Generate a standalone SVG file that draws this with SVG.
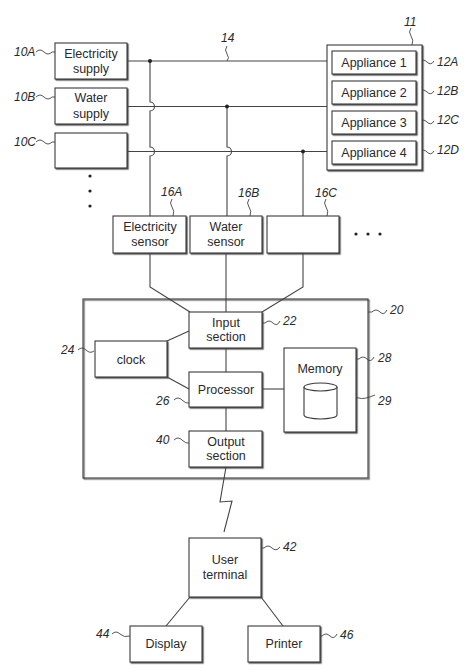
<svg xmlns="http://www.w3.org/2000/svg" width="474" height="672" viewBox="0 0 474 672">
<style>
.box{fill:#fff;stroke:#3a3a3a;stroke-width:1.1;filter:url(#sh)}
.ln{fill:none;stroke:#444;stroke-width:1.1}
.tl{fill:none;stroke:#444;stroke-width:0.9}
.t{font-family:"Liberation Sans",Arial,sans-serif;font-size:12.5px;fill:#2a2a2a;text-anchor:middle}
.lb{font-family:"Liberation Sans",Arial,sans-serif;font-size:12px;font-style:italic;fill:#2a2a2a}
.dot{fill:#222}
</style>
<defs>
<filter id="sh" x="-5%" y="-5%" width="115%" height="115%">
<feDropShadow dx="1.2" dy="1.2" stdDeviation="0.3" flood-color="#444" flood-opacity="0.9"/>
</filter>
</defs>
<rect width="474" height="672" fill="#fff"/>

<g id="connectors">
<!-- bus lines -->
<path class="ln" d="M127 61 H327"/>
<path class="ln" d="M127 106.5 H327"/>
<path class="ln" d="M127 151.5 H327"/>
<!-- vertical taps with hops -->
<path class="ln" d="M150 61 V102 A4.5 4.5 0 0 1 150 111 V147 A4.5 4.5 0 0 1 150 156 V216"/>
<path class="ln" d="M227 106.5 V147 A4.5 4.5 0 0 1 227 156 V216"/>
<path class="ln" d="M303 151.5 V216"/>
<circle class="dot" cx="150" cy="61" r="2"/>
<circle class="dot" cx="227" cy="106.5" r="2"/>
<circle class="dot" cx="303" cy="151.5" r="2"/>
<!-- sensors to input -->
<path class="ln" d="M150 253 V287 L190 312"/>
<path class="ln" d="M226 253 V312"/>
<path class="ln" d="M303 253 V287 L262 312"/>
<!-- internal -->
<path class="ln" d="M167 341 L189 331"/>
<path class="ln" d="M167 377 L189 389"/>
<path class="ln" d="M226 348 V372"/>
<path class="ln" d="M226 407 V431"/>
<path class="ln" d="M262 389 H284"/>
<!-- wireless link -->
<path class="ln" d="M226 467 L220 502 L232 501 L224 532"/>
<!-- terminal to peripherals -->
<path class="ln" d="M190 597 L166 626"/>
<path class="ln" d="M261 597 L283 626"/>
<!-- ellipsis dots -->
<circle class="dot" cx="90" cy="176" r="1.6"/>
<circle class="dot" cx="90" cy="191" r="1.6"/>
<circle class="dot" cx="90" cy="206" r="1.6"/>
<circle class="dot" cx="356" cy="234" r="1.6"/>
<circle class="dot" cx="368" cy="234" r="1.6"/>
<circle class="dot" cx="380" cy="234" r="1.6"/>
</g>

<g id="leaders">
<path class="tl" d="M36 52 q4 -4 8 0 t8 0 h3"/>
<path class="tl" d="M36 97 q4 -4 8 0 t8 0 h3"/>
<path class="tl" d="M36 142 q4 -4 8 0 t8 0 h3"/>
<path class="tl" d="M227 46 q-3 4 0 8 t0 7"/>
<path class="tl" d="M411 28 q-3 4 0 8 t1 9"/>
<path class="tl" d="M416 62 h3 q4 -4 8 0 t7 -1"/>
<path class="tl" d="M416 92 h3 q4 -4 8 0 t7 -1"/>
<path class="tl" d="M416 122 h3 q4 -4 8 0 t7 -1"/>
<path class="tl" d="M416 152 h3 q4 -4 8 0 t7 -1"/>
<path class="tl" d="M172 199 q-3 4 0 8 t1 9"/>
<path class="tl" d="M249 199 q-3 4 0 8 t1 9"/>
<path class="tl" d="M326 199 q-3 4 0 8 t1 9"/>
<path class="tl" d="M368 312 h4 q4 -4 8 0 t7 -2"/>
<path class="tl" d="M262 323 h3 q4 -4 8 0 t7 -2"/>
<path class="tl" d="M78 350 q4 -4 8 0 t8 1"/>
<path class="tl" d="M356 359 h3 q4 -4 8 0 t7 -2"/>
<path class="tl" d="M337 402 h8 q4 0 6 -2 q4 -4 8 -2 t16 -3"/>
<path class="tl" d="M174 400 q4 -4 8 0 t7 3"/>
<path class="tl" d="M174 440 q4 -4 8 0 t7 3"/>
<path class="tl" d="M261 548 h3 q4 -4 8 0 t8 -1"/>
<path class="tl" d="M112 634 q4 -4 8 0 t10 2"/>
<path class="tl" d="M320 636 h2 q4 -4 8 0 t7 -2"/>
</g>

<g class="lb">
<text x="14" y="56">10A</text>
<text x="14" y="101">10B</text>
<text x="14" y="146">10C</text>
<text x="221" y="42">14</text>
<text x="404" y="26">11</text>
<text x="437" y="66">12A</text>
<text x="437" y="95">12B</text>
<text x="437" y="124">12C</text>
<text x="437" y="154">12D</text>
<text x="161" y="196">16A</text>
<text x="238" y="197">16B</text>
<text x="315" y="197">16C</text>
<text x="390" y="314">20</text>
<text x="283" y="325">22</text>
<text x="61" y="354">24</text>
<text x="378" y="362">28</text>
<text x="378" y="405">29</text>
<text x="156" y="405">26</text>
<text x="156" y="444">40</text>
<text x="283" y="551">42</text>
<text x="96" y="638">44</text>
<text x="340" y="639">46</text>
</g>

<g id="n10A"><rect class="box" x="55" y="43" width="72" height="36"/>
<text class="t" x="91" y="57.5">Electricity</text><text class="t" x="91" y="73">supply</text></g>
<g id="n10B"><rect class="box" x="55" y="88" width="72" height="36"/>
<text class="t" x="91" y="102">Water</text><text class="t" x="91" y="117.5">supply</text></g>
<g id="n10C"><rect class="box" x="55" y="133" width="72" height="35"/></g>

<g id="n11"><rect class="box" x="327" y="45" width="95" height="125"/></g>
<g id="n12A"><rect class="box" x="332" y="51" width="84" height="23"/><text class="t" x="374" y="67">Appliance 1</text></g>
<g id="n12B"><rect class="box" x="332" y="81" width="84" height="23"/><text class="t" x="374" y="97">Appliance 2</text></g>
<g id="n12C"><rect class="box" x="332" y="111" width="84" height="23"/><text class="t" x="374" y="127">Appliance 3</text></g>
<g id="n12D"><rect class="box" x="332" y="141" width="84" height="23"/><text class="t" x="374" y="157">Appliance 4</text></g>

<g id="n16A"><rect class="box" x="113" y="216" width="73" height="37"/>
<text class="t" x="150" y="230.5">Electricity</text><text class="t" x="150" y="246">sensor</text></g>
<g id="n16B"><rect class="box" x="190" y="216" width="72" height="37"/>
<text class="t" x="226" y="230.5">Water</text><text class="t" x="226" y="246">sensor</text></g>
<g id="n16C"><rect class="box" x="267" y="216" width="72" height="37"/></g>

<g id="n20"><rect class="box" x="83" y="299" width="285" height="179" style="fill:none"/></g>
<g id="n22"><rect class="box" x="189" y="312" width="73" height="36"/>
<text class="t" x="226" y="327">Input</text><text class="t" x="226" y="341">section</text></g>
<g id="n24"><rect class="box" x="95" y="341" width="72" height="36"/><text class="t" x="131" y="363.5">clock</text></g>
<g id="n26"><rect class="box" x="189" y="372" width="73" height="35"/><text class="t" x="226" y="393.5">Processor</text></g>
<g id="n40"><rect class="box" x="189" y="431" width="73" height="36"/>
<text class="t" x="226" y="445.5">Output</text><text class="t" x="226" y="460">section</text></g>
<g id="n28"><rect class="box" x="284" y="348" width="72" height="84"/><text class="t" x="320" y="372.5">Memory</text></g>
<g id="n29">
<path d="M304 387 V415 A16.5 4 0 0 0 337 415 V387" fill="#fff" stroke="#3a3a3a" stroke-width="1.1"/>
<ellipse cx="320.5" cy="387" rx="16.5" ry="4" fill="#fff" stroke="#3a3a3a" stroke-width="1.1"/>
</g>

<g id="n42"><rect class="box" x="189" y="538" width="72" height="59"/>
<text class="t" x="225" y="563.5">User</text><text class="t" x="225" y="578.5">terminal</text></g>
<g id="n44"><rect class="box" x="130" y="626" width="72" height="36"/><text class="t" x="166" y="647.5">Display</text></g>
<g id="n46"><rect class="box" x="248" y="626" width="72" height="36"/><text class="t" x="284" y="647.5">Printer</text></g>
</svg>
